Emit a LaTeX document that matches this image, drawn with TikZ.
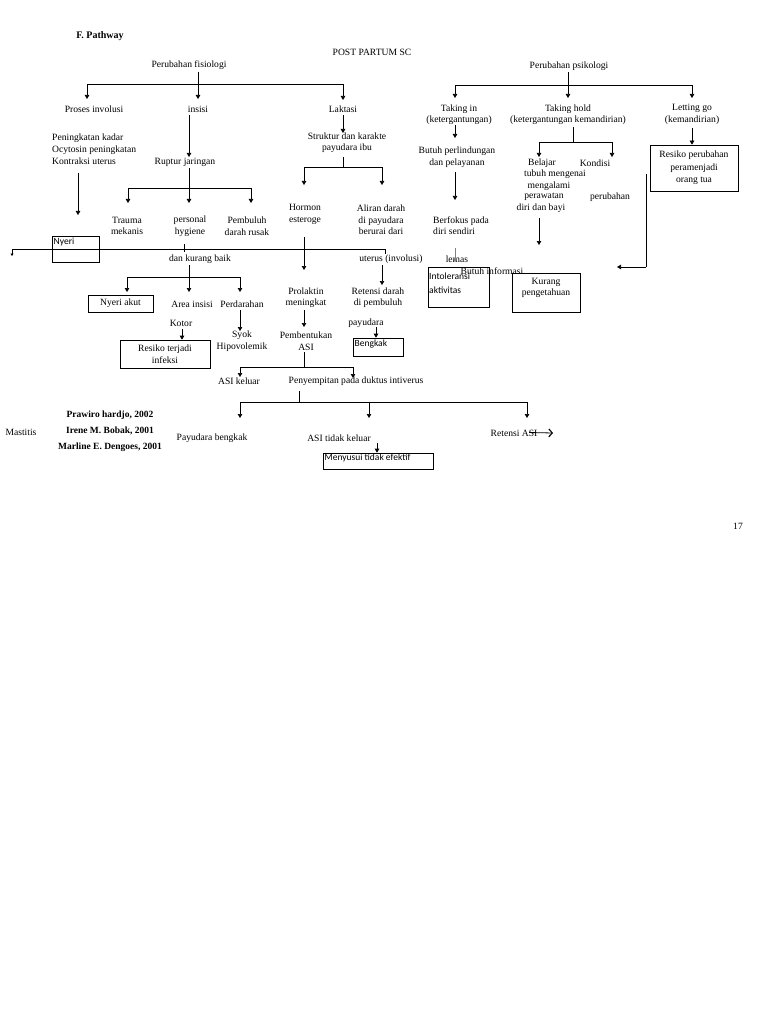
\documentclass[tikz,border=0pt]{standalone}
\usepackage{fontspec}
\setmainfont{Liberation Serif}
\newfontfamily\lblfont{Carlito}
\usetikzlibrary{arrows.meta}
\begin{document}
\begin{tikzpicture}[x=1pt,y=-1pt,
  txt/.style={font=\fontsize{9.6}{11.5}\selectfont, inner sep=1pt, align=center},
  txtl/.style={txt, align=left},
  boldtxt/.style={font=\fontsize{9.5}{16}\selectfont\bfseries, inner sep=1pt, align=center},
  boxed/.style={draw, line width=0.65pt, inner sep=0pt},
  lbl/.style={font=\lblfont\fontsize{9.5}{14}\selectfont, inner sep=0.5pt, align=left},
  ln/.style={line width=0.65pt},
  arr/.style={ln, -{Triangle[length=4pt,width=4.5pt]}},
  smallarr/.style={ln, -{Triangle[length=2.5pt,width=3pt]}},
]
\useasboundingbox (0,0) rectangle (768,1024);
\fill[white] (0,0) rectangle (768,1024);

% ---------- titles ----------
\node[boldtxt, font=\fontsize{10}{12}\selectfont\bfseries] (title) at (100,36) {F. Pathway};
\node[txt] (post) at (372,52) {POST PARTUM SC};
\node[txt] (fis) at (189,65) {Perubahan fisiologi};
\node[txt] (psi) at (569,66) {Perubahan psikologi};

% ---------- fisiologi branch ----------
\node[txt] (inv) at (94,109) {Proses involusi};
\node[txt] (ins) at (198,109) {insisi};
\node[txt] (lak) at (343,109) {Laktasi};
\node[txtl, font=\fontsize{9.6}{12}\selectfont, anchor=west] (pk) at (51,149) {Peningkatan kadar\\Ocytosin peningkatan\\Kontraksi uterus};
\node[txt] (rup) at (185,162) {Ruptur jaringan};
\node[txt] (tra) at (127,226) {Trauma\\mekanis};
\node[txt] (hyg) at (190,226) {personal\\hygiene};
\node[txt] (pem) at (247,226) {Pembuluh\\darah rusak};
\node[boxed, minimum width=47pt, minimum height=26pt] (nyeribox) at (75.5,249) {};
\node[lbl, anchor=north west] (nyeri) at (53,237) {Nyeri};
\node[txt] (dkb) at (200,259) {dan kurang baik};
\node[boxed, txt, minimum width=65pt, minimum height=17pt] (nak) at (120.5,303.5) {Nyeri akut};
\node[txt] (are) at (192,304) {Area insisi};
\node[txt] (per) at (242,304) {Perdarahan};
\node[txt] (kot) at (181,323) {Kotor};
\node[boxed, txt, minimum width=90pt, minimum height=28pt] (rti) at (165,354) {Resiko terjadi\\infeksi};
\node[txt] (syo) at (242,341) {Syok\\Hipovolemik};

% ---------- laktasi ----------
\node[txt] (struk) at (347,142.5) {Struktur dan karakte\\payudara ibu};
\node[txt] (hor) at (305,214.5) {Hormon\\esteroge};
\node[txt] (ali) at (381,220) {Aliran darah\\di payudara\\berurai dari};
\node[txt] (uti) at (391,259) {uterus (involusi)};
\node[txt] (pro) at (306,297.5) {Prolaktin\\meningkat};
\node[txt] (ret) at (378,297.5) {Retensi darah\\di pembuluh};
\node[txt] (pay) at (366,323) {payudara};
\node[boxed, minimum width=50pt, minimum height=18pt] (bengbox) at (378,347) {};
\node[lbl, anchor=north west] (beng) at (354,339) {Bengkak};
\node[txt] (pbt) at (306,341) {Pembentukan\\ASI};
\node[txt] (asik) at (239,381) {ASI keluar};
\node[txt] (peny) at (356,381) {Penyempitan pada duktus intiverus};
\node[txt] (pb) at (212,438) {Payudara bengkak};
\node[txt] (atk) at (339,438) {ASI tidak keluar};
\node[boxed, minimum width=110pt, minimum height=16pt] (mtebox) at (378,461) {};
\node[lbl, anchor=north west] (mte) at (324,453.5) {Menyusui tidak efektif};
\node[txt] (ras) at (514,433) {Retensi ASI};
\node[txt] (mas) at (21,432) {Mastitis};
\node[boldtxt] (cite) at (110,431) {Prawiro hardjo, 2002\\Irene M. Bobak, 2001\\Marline E. Dengoes, 2001};

% ---------- psikologi branch ----------
\node[txt] (tin) at (459,114.5) {Taking in\\(ketergantungan)};
\node[txt] (bpl) at (457,157) {Butuh perlindungan\\dan pelayanan};
\node[txtl, anchor=west] (ber) at (432,225.5) {Berfokus pada\\diri sendiri};
\node[txt] (lem) at (457,259) {lemas};
\node[boxed, minimum width=61pt, minimum height=40pt] (intbox) at (458.5,287) {};
\node[lbl, anchor=north west] (intl) at (428.5,272) {Intoleransi\\aktivitas};
\node[txt] (bin) at (492,271) {Butuh informasi};
\node[boxed, minimum width=68pt, minimum height=39pt] (kpbox) at (546,292.5) {};
\node[txt] (kpt) at (546,288) {Kurang\\pengetahuan};
\node[txt] (thold) at (568,114.5) {Taking hold\\(ketergantungan kemandirian)};
\node[txt] (bel) at (542,163) {Belajar};
\node[txt] (kon) at (595,163) {Kondisi};
\node[txt] (tub) at (555,174) {tubuh mengenai};
\node[txt] (mng) at (549,186) {mengalami};
\node[txt] (prw) at (544,197) {perawatan};
\node[txt] (prb) at (610,197) {perubahan};
\node[txt] (ddb) at (541,208) {diri dan bayi};
\node[txt] (lgo) at (692,114.5) {Letting go\\(kemandirian)};
\node[boxed, txt, font=\fontsize{9.6}{12.5}\selectfont, minimum width=88pt, minimum height=46pt] (rpb) at (694,168) {Resiko perubahan\\peramenjadi\\orang tua};
\node[txt] (pg) at (738,526) {17};

% ---------- connectors: fisiologi ----------
\coordinate (f0) at (198,72);  \coordinate (f1) at (198,84);
\coordinate (fL) at (87,84);   \coordinate (fR) at (343,84);
\draw[ln] (f0) -- (f1);
\draw[ln] (fL) -- (fR);
\draw[arr] (fL) -- (87,99);
\draw[arr] (f1) -- (198,99);
\draw[arr] (fR) -- (343,100);

\coordinate (i0) at (189,115);
\draw[arr] (i0) -- (189,157);
\coordinate (l0) at (343,115);
\draw[arr] (l0) -- (343,133);
\coordinate (k0) at (78,173);
\draw[arr] (k0) -- (78,215);

\coordinate (r0) at (189,168); \coordinate (r1) at (189,188);
\coordinate (rL) at (128,188); \coordinate (rR) at (251,188);
\draw[ln] (r0) -- (r1);
\draw[ln] (rL) -- (rR);
\draw[arr] (rL) -- (128,203);
\draw[arr] (r1) -- (189,203);
\draw[arr] (rR) -- (251,203);

\coordinate (hL) at (12,249); \coordinate (hR) at (385,249);
\draw[ln] (hL) -- (hR);
\draw[smallarr] (hL) -- (12,256);
\draw[ln] (hR) -- (385,254);
\draw[ln] (184,244) -- (184,252);

\coordinate (d0) at (189,265); \coordinate (d1) at (189,277);
\coordinate (dL) at (127,277); \coordinate (dR) at (240,277);
\draw[ln] (d0) -- (d1);
\draw[ln] (dL) -- (dR);
\draw[arr] (dL) -- (127,292);
\draw[arr] (d1) -- (189,292);
\draw[arr] (dR) -- (240,292);

\coordinate (ko0) at (182,329);
\draw[arr] (ko0) -- (rti.north -| ko0);
\coordinate (pe0) at (240,310);
\draw[arr] (pe0) -- (240,331);

% ---------- connectors: laktasi ----------
\coordinate (s0) at (343,157); \coordinate (s1) at (343,167);
\coordinate (sL) at (304,167); \coordinate (sR) at (382,167);
\draw[ln] (s0) -- (s1);
\draw[ln] (sL) -- (sR);
\draw[arr] (sL) -- (304,185);
\draw[arr] (sR) -- (382,185);

\coordinate (ho0) at (304,237);
\draw[arr] (ho0) -- (304,270);
\coordinate (u0) at (382,265);
\draw[arr] (u0) -- (382,285);
\coordinate (p0) at (304,310);
\draw[arr] (p0) -- (304,327);
\coordinate (py0) at (376,327);
\draw[arr] (py0) -- (bengbox.north -| py0);

\coordinate (a0) at (304,352); \coordinate (a1) at (304,367);
\coordinate (aL) at (240,367); \coordinate (aR) at (353,367);
\draw[ln] (a0) -- (a1);
\draw[ln] (aL) -- (aR);
\draw[arr] (aL) -- (240,377);
\draw[arr] (aR) -- (353,378);

\coordinate (n0) at (299,391); \coordinate (n1) at (299,402);
\coordinate (nL) at (240,402); \coordinate (nR) at (527,402);
\coordinate (nM) at (369,402);
\draw[ln] (n0) -- (n1);
\draw[ln] (nL) -- (nR);
\draw[arr] (nL) -- (240,418);
\draw[arr] (nM) -- (369,418);
\draw[arr] (nR) -- (527,418);

\coordinate (t0) at (377,443);
\draw[arr] (t0) -- (mtebox.north -| t0);
\coordinate (rasE) at (553,433);
\draw[line width=0.8pt, -{Straight Barb[length=3.5pt,width=8pt,line width=1.1pt]}] (529,432.5) -- (rasE);

% ---------- connectors: psikologi ----------
\coordinate (q0) at (568,72); \coordinate (q1) at (568,85);
\coordinate (qL) at (455,85); \coordinate (qR) at (692,85);
\draw[ln] (q0) -- (q1);
\draw[ln] (qL) -- (qR);
\draw[arr] (qL) -- (455,98);
\draw[arr] (q1) -- (568,98);
\draw[arr] (qR) -- (692,98);

\coordinate (ti0) at (455,125);
\draw[arr] (ti0) -- (455,138);
\coordinate (bp0) at (455,172);
\draw[arr] (bp0) -- (455,200);
\coordinate (be0) at (455,248);
\draw[arr, draw=gray] (be0) -- (455,262);

\coordinate (th0) at (573,127); \coordinate (th1) at (573,142);
\coordinate (thL) at (539,142); \coordinate (thR) at (612,142);
\draw[ln] (th0) -- (th1);
\draw[ln] (thL) -- (thR);
\draw[arr] (thL) -- (539,157);
\draw[arr] (thR) -- (612,157);

\coordinate (db0) at (539,218);
\draw[arr] (db0) -- (539,245);
\coordinate (lg0) at (692,128);
\draw[arr] (lg0) -- (rpb.north -| lg0);

\coordinate (v0) at (646,174); \coordinate (v1) at (646,267);
\coordinate (v2) at (617,267);
\draw[ln] (v0) -- (v1);
\draw[arr] (v1) -- (v2);
\end{tikzpicture}
\end{document}
